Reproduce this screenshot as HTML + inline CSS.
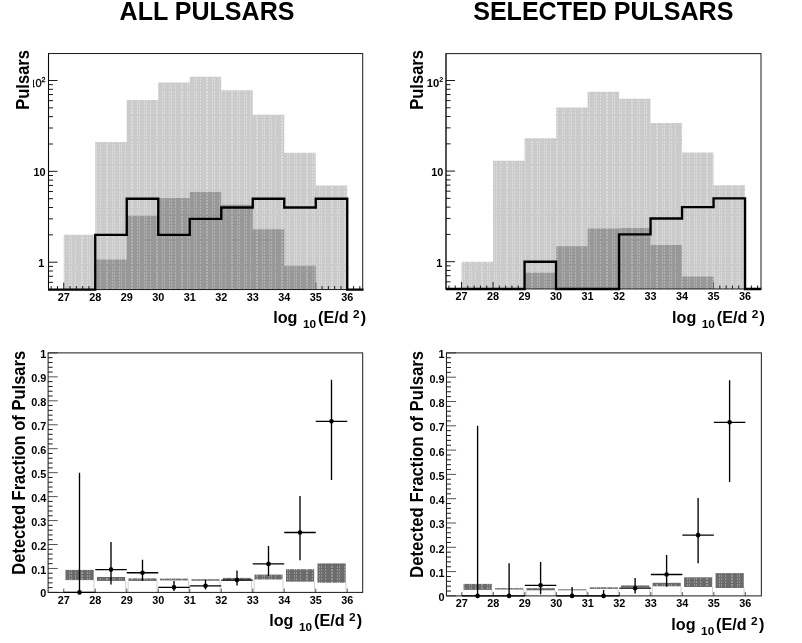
<!DOCTYPE html>
<html lang="en"><head><meta charset="utf-8"><title>Pulsars</title>
<style>html,body{margin:0;padding:0;background:#fff;}body{width:802px;height:643px;overflow:hidden;}svg{display:block;}text{font-family:"Liberation Sans",Arial,Helvetica,sans-serif;font-weight:bold;fill:#000;}</style>
</head><body>
<svg width="802" height="643" viewBox="0 0 802 643">
<defs>
<pattern id="pl" patternUnits="userSpaceOnUse" width="25" height="25"><rect width="25" height="25" fill="#cbcbcb"/><path d="M0 0h1v2h-1zM0 3h1v2h-1zM0 6h1v2h-1zM0 9h1v2h-1zM0 12h1v2h-1zM0 16h1v2h-1zM0 19h1v2h-1zM0 22h1v2h-1zM6 0h2v2h-2zM6 3h2v2h-2zM6 6h2v2h-2zM6 9h2v2h-2zM6 12h2v2h-2zM6 16h2v2h-2zM6 19h2v2h-2zM6 22h2v2h-2zM12 0h1v2h-1zM12 3h1v2h-1zM12 6h1v2h-1zM12 9h1v2h-1zM12 12h1v2h-1zM12 16h1v2h-1zM12 19h1v2h-1zM12 22h1v2h-1zM14 0h1v2h-1zM14 3h1v2h-1zM14 6h1v2h-1zM14 9h1v2h-1zM14 12h1v2h-1zM14 16h1v2h-1zM14 19h1v2h-1zM14 22h1v2h-1zM19 0h1v2h-1zM19 3h1v2h-1zM19 6h1v2h-1zM19 9h1v2h-1zM19 12h1v2h-1zM19 16h1v2h-1zM19 19h1v2h-1zM19 22h1v2h-1zM21 0h1v2h-1zM21 3h1v2h-1zM21 6h1v2h-1zM21 9h1v2h-1zM21 12h1v2h-1zM21 16h1v2h-1zM21 19h1v2h-1zM21 22h1v2h-1z" fill="#dcdcdc"/></pattern>
<pattern id="pd" patternUnits="userSpaceOnUse" width="25" height="25"><rect width="25" height="25" fill="#989898"/><path d="M0 0h1v2h-1zM0 3h1v2h-1zM0 6h1v2h-1zM0 9h1v2h-1zM0 12h1v2h-1zM0 16h1v2h-1zM0 19h1v2h-1zM0 22h1v2h-1zM6 0h2v2h-2zM6 3h2v2h-2zM6 6h2v2h-2zM6 9h2v2h-2zM6 12h2v2h-2zM6 16h2v2h-2zM6 19h2v2h-2zM6 22h2v2h-2zM12 0h1v2h-1zM12 3h1v2h-1zM12 6h1v2h-1zM12 9h1v2h-1zM12 12h1v2h-1zM12 16h1v2h-1zM12 19h1v2h-1zM12 22h1v2h-1zM14 0h1v2h-1zM14 3h1v2h-1zM14 6h1v2h-1zM14 9h1v2h-1zM14 12h1v2h-1zM14 16h1v2h-1zM14 19h1v2h-1zM14 22h1v2h-1zM19 0h1v2h-1zM19 3h1v2h-1zM19 6h1v2h-1zM19 9h1v2h-1zM19 12h1v2h-1zM19 16h1v2h-1zM19 19h1v2h-1zM19 22h1v2h-1zM21 0h1v2h-1zM21 3h1v2h-1zM21 6h1v2h-1zM21 9h1v2h-1zM21 12h1v2h-1zM21 16h1v2h-1zM21 19h1v2h-1zM21 22h1v2h-1z" fill="#b2b2b2"/></pattern>
<pattern id="pb" patternUnits="userSpaceOnUse" width="25" height="25"><rect width="25" height="25" fill="#6b6b6b"/><path d="M0 0h1v2h-1zM0 3h1v2h-1zM0 6h1v2h-1zM0 9h1v2h-1zM0 12h1v2h-1zM0 16h1v2h-1zM0 19h1v2h-1zM0 22h1v2h-1zM6 0h2v2h-2zM6 3h2v2h-2zM6 6h2v2h-2zM6 9h2v2h-2zM6 12h2v2h-2zM6 16h2v2h-2zM6 19h2v2h-2zM6 22h2v2h-2zM12 0h1v2h-1zM12 3h1v2h-1zM12 6h1v2h-1zM12 9h1v2h-1zM12 12h1v2h-1zM12 16h1v2h-1zM12 19h1v2h-1zM12 22h1v2h-1zM14 0h1v2h-1zM14 3h1v2h-1zM14 6h1v2h-1zM14 9h1v2h-1zM14 12h1v2h-1zM14 16h1v2h-1zM14 19h1v2h-1zM14 22h1v2h-1zM19 0h1v2h-1zM19 3h1v2h-1zM19 6h1v2h-1zM19 9h1v2h-1zM19 12h1v2h-1zM19 16h1v2h-1zM19 19h1v2h-1zM19 22h1v2h-1zM21 0h1v2h-1zM21 3h1v2h-1zM21 6h1v2h-1zM21 9h1v2h-1zM21 12h1v2h-1zM21 16h1v2h-1zM21 19h1v2h-1zM21 22h1v2h-1z" fill="#969696"/></pattern>
</defs>
<rect width="802" height="643" fill="#ffffff"/>
<text x="207" y="19.6" font-size="25.05" text-anchor="middle">ALL PULSARS</text>
<path d="M63.75 289.55V234.85H95.25V142.08H126.75V100H158.25V82.52H189.75V76.74H221.25V90.3H252.75V114.73H284.25V152.81H315.75V185.42H347.25V289.55Z" fill="url(#pl)"/>
<path d="M51.15 289.55v-3.5M57.45 289.55v-3.5M63.75 289.55v-7M70.05 289.55v-3.5M76.35 289.55v-3.5M82.65 289.55v-3.5M88.95 289.55v-3.5M95.25 289.55v-7M101.55 289.55v-3.5M107.85 289.55v-3.5M114.15 289.55v-3.5M120.45 289.55v-3.5M126.75 289.55v-7M133.05 289.55v-3.5M139.35 289.55v-3.5M145.65 289.55v-3.5M151.95 289.55v-3.5M158.25 289.55v-7M164.55 289.55v-3.5M170.85 289.55v-3.5M177.15 289.55v-3.5M183.45 289.55v-3.5M189.75 289.55v-7M196.05 289.55v-3.5M202.35 289.55v-3.5M208.65 289.55v-3.5M214.95 289.55v-3.5M221.25 289.55v-7M227.55 289.55v-3.5M233.85 289.55v-3.5M240.15 289.55v-3.5M246.45 289.55v-3.5M252.75 289.55v-7M259.05 289.55v-3.5M265.35 289.55v-3.5M271.65 289.55v-3.5M277.95 289.55v-3.5M284.25 289.55v-7M290.55 289.55v-3.5M296.85 289.55v-3.5M303.15 289.55v-3.5M309.45 289.55v-3.5M315.75 289.55v-7M322.05 289.55v-3.5M328.35 289.55v-3.5M334.65 289.55v-3.5M340.95 289.55v-3.5M347.25 289.55v-7M353.55 289.55v-3.5M359.85 289.55v-3.5M48.5 289.55h4.5M48.5 282.35h4.5M48.5 276.27h4.5M48.5 271h4.5M48.5 266.36h4.5M48.5 262.2h9M48.5 234.85h4.5M48.5 218.85h4.5M48.5 207.5h4.5M48.5 198.7h4.5M48.5 191.5h4.5M48.5 185.42h4.5M48.5 180.15h4.5M48.5 175.51h4.5M48.5 171.35h9M48.5 144h4.5M48.5 128h4.5M48.5 116.65h4.5M48.5 107.85h4.5M48.5 100.65h4.5M48.5 94.57h4.5M48.5 89.3h4.5M48.5 84.66h4.5M48.5 80.5h9" stroke="#1a1a1a" stroke-width="1" fill="none"/>
<path d="M63.75 289.55V289.55H95.25V259.53H126.75V215.82H158.25V197.99H189.75V191.9H221.25V204.65H252.75V229.34H284.25V265.7H315.75V289.55H347.25V289.55Z" fill="url(#pd)"/>
<rect x="48.5" y="53.55" width="314.2" height="236" fill="none" stroke="#1a1a1a" stroke-width="1"/>
<path d="M48.5 53.55V289.55" stroke="#000" stroke-width="1.1" opacity="0.75"/>
<path d="M48 289.55H63.75V289.55H95.25V234.85H126.75V198.7H158.25V234.85H189.75V218.85H221.25V207.5H252.75V198.7H284.25V207.5H315.75V198.7H347.25V289.55H363.5" stroke="#000" stroke-width="2.35" fill="none" stroke-linejoin="miter"/>
<text x="63.75" y="300.5" font-size="10.85" text-anchor="middle">27</text>
<text x="95.25" y="300.5" font-size="10.85" text-anchor="middle">28</text>
<text x="126.75" y="300.5" font-size="10.85" text-anchor="middle">29</text>
<text x="158.25" y="300.5" font-size="10.85" text-anchor="middle">30</text>
<text x="189.75" y="300.5" font-size="10.85" text-anchor="middle">31</text>
<text x="221.25" y="300.5" font-size="10.85" text-anchor="middle">32</text>
<text x="252.75" y="300.5" font-size="10.85" text-anchor="middle">33</text>
<text x="284.25" y="300.5" font-size="10.85" text-anchor="middle">34</text>
<text x="315.75" y="300.5" font-size="10.85" text-anchor="middle">35</text>
<text x="347.25" y="300.5" font-size="10.85" text-anchor="middle">36</text>
<text x="44.4" y="266.8" font-size="10.85" text-anchor="end">1</text>
<text x="45.5" y="175.95" font-size="10.85" text-anchor="end">10</text>
<text x="45.6" y="87.4" font-size="11" text-anchor="end" style="font-weight:normal" stroke="#000" stroke-width="0.3">10<tspan font-size="7.2" dy="-5.0">2</tspan></text>
<rect x="0" y="60" width="34.4" height="40" fill="#fff"/>
<path d="M33.5 79.7V87.4" stroke="#111" stroke-width="1"/>
<text transform="translate(29.4 109.7) rotate(-90)" font-size="18.1" textLength="59.6" lengthAdjust="spacingAndGlyphs">Pulsars</text>
<text x="273.2" y="322.8" font-size="16.2">log</text>
<text x="303" y="328" font-size="11.8">10</text>
<text x="318" y="322.8" font-size="16.2">(E/d</text>
<text x="353" y="317.9" font-size="11.8">2</text>
<text x="360.8" y="322.8" font-size="16.2">)</text>
<text x="603.3" y="19.6" font-size="25.05" text-anchor="middle">SELECTED PULSARS</text>
<path d="M461.55 288.97V261.7H493.05V160.78H524.55V138.33H556.05V107.38H587.55V91.82H619.05V98.68H650.55V122.95H682.05V152.61H713.55V185.13H745.05V288.97Z" fill="url(#pl)"/>
<path d="M448.95 288.97v-3.5M455.25 288.97v-3.5M461.55 288.97v-7M467.85 288.97v-3.5M474.15 288.97v-3.5M480.45 288.97v-3.5M486.75 288.97v-3.5M493.05 288.97v-7M499.35 288.97v-3.5M505.65 288.97v-3.5M511.95 288.97v-3.5M518.25 288.97v-3.5M524.55 288.97v-7M530.85 288.97v-3.5M537.15 288.97v-3.5M543.45 288.97v-3.5M549.75 288.97v-3.5M556.05 288.97v-7M562.35 288.97v-3.5M568.65 288.97v-3.5M574.95 288.97v-3.5M581.25 288.97v-3.5M587.55 288.97v-7M593.85 288.97v-3.5M600.15 288.97v-3.5M606.45 288.97v-3.5M612.75 288.97v-3.5M619.05 288.97v-7M625.35 288.97v-3.5M631.65 288.97v-3.5M637.95 288.97v-3.5M644.25 288.97v-3.5M650.55 288.97v-7M656.85 288.97v-3.5M663.15 288.97v-3.5M669.45 288.97v-3.5M675.75 288.97v-3.5M682.05 288.97v-7M688.35 288.97v-3.5M694.65 288.97v-3.5M700.95 288.97v-3.5M707.25 288.97v-3.5M713.55 288.97v-7M719.85 288.97v-3.5M726.15 288.97v-3.5M732.45 288.97v-3.5M738.75 288.97v-3.5M745.05 288.97v-7M751.35 288.97v-3.5M757.65 288.97v-3.5M446 288.97h4.5M446 281.8h4.5M446 275.73h4.5M446 270.48h4.5M446 265.85h4.5M446 261.7h9M446 234.43h4.5M446 218.47h4.5M446 207.15h4.5M446 198.37h4.5M446 191.2h4.5M446 185.13h4.5M446 179.88h4.5M446 175.25h4.5M446 171.1h9M446 143.83h4.5M446 127.87h4.5M446 116.55h4.5M446 107.77h4.5M446 100.6h4.5M446 94.53h4.5M446 89.28h4.5M446 84.65h4.5M446 80.5h9" stroke="#1a1a1a" stroke-width="1" fill="none"/>
<path d="M461.55 288.97V288.97H493.05V288.97H524.55V272.76H556.05V246.27H587.55V228.59H619.05V228.08H650.55V244.97H682.05V276.47H713.55V288.97H745.05V288.97Z" fill="url(#pd)"/>
<rect x="446" y="53.62" width="315" height="235.35" fill="none" stroke="#1a1a1a" stroke-width="1"/>
<path d="M446 53.62V288.97" stroke="#000" stroke-width="1.1" opacity="0.75"/>
<path d="M445.8 288.97H461.55V288.97H493.05V288.97H524.55V261.7H556.05V288.97H587.55V288.97H619.05V234.43H650.55V218.47H682.05V207.15H713.55V198.37H745.05V288.97H761.3" stroke="#000" stroke-width="2.35" fill="none" stroke-linejoin="miter"/>
<text x="461.55" y="300.1" font-size="10.85" text-anchor="middle">27</text>
<text x="493.05" y="300.1" font-size="10.85" text-anchor="middle">28</text>
<text x="524.55" y="300.1" font-size="10.85" text-anchor="middle">29</text>
<text x="556.05" y="300.1" font-size="10.85" text-anchor="middle">30</text>
<text x="587.55" y="300.1" font-size="10.85" text-anchor="middle">31</text>
<text x="619.05" y="300.1" font-size="10.85" text-anchor="middle">32</text>
<text x="650.55" y="300.1" font-size="10.85" text-anchor="middle">33</text>
<text x="682.05" y="300.1" font-size="10.85" text-anchor="middle">34</text>
<text x="713.55" y="300.1" font-size="10.85" text-anchor="middle">35</text>
<text x="745.05" y="300.1" font-size="10.85" text-anchor="middle">36</text>
<text x="442.2" y="267" font-size="10.85" text-anchor="end">1</text>
<text x="443.3" y="176.1" font-size="10.85" text-anchor="end">10</text>
<text x="443.3" y="86.8" font-size="11.2" text-anchor="end">10<tspan font-size="7.2" dy="-4.9">2</tspan></text>
<text transform="translate(423.1 109.7) rotate(-90)" font-size="18.1" textLength="59.6" lengthAdjust="spacingAndGlyphs">Pulsars</text>
<text x="672" y="323" font-size="16.2">log</text>
<text x="701.8" y="328.2" font-size="11.8">10</text>
<text x="716.8" y="323" font-size="16.2">(E/d</text>
<text x="751.8" y="318.1" font-size="11.8">2</text>
<text x="759.6" y="323" font-size="16.2">)</text>
<path d="M93.99 580.1V592.4M125.49 580.9V592.4M156.99 580.9V592.4M128.17 592.4V580.9M188.49 580.4V592.4M219.99 580.7V592.4M251.49 580.4V592.4M282.99 579.5V592.4M254.17 592.4V579.5M314.49 581.7V592.4M345.99 582.7V592.4" stroke="#bdbdbd" stroke-width="0.7" fill="none"/>
<rect x="65.48" y="569.9" width="28.19" height="10.2" fill="url(#pb)"/>
<rect x="96.98" y="577" width="28.19" height="3.9" fill="url(#pb)"/>
<rect x="128.48" y="578.4" width="28.19" height="2.5" fill="url(#pb)"/>
<rect x="159.98" y="578.6" width="28.19" height="1.8" fill="url(#pb)"/>
<rect x="191.48" y="579.2" width="28.19" height="1.5" fill="url(#pb)"/>
<rect x="222.98" y="577.9" width="28.19" height="2.5" fill="url(#pb)"/>
<rect x="254.48" y="574.6" width="28.19" height="4.9" fill="url(#pb)"/>
<rect x="285.98" y="569.2" width="28.19" height="12.5" fill="url(#pb)"/>
<rect x="317.48" y="563.4" width="28.19" height="19.3" fill="url(#pb)"/>
<path d="M48.1 587.61h4.5M48.1 582.82h4.5M48.1 578.03h4.5M48.1 573.24h4.5M48.1 563.66h4.5M48.1 558.87h4.5M48.1 554.08h4.5M48.1 549.29h4.5M48.1 539.71h4.5M48.1 534.92h4.5M48.1 530.13h4.5M48.1 525.34h4.5M48.1 515.76h4.5M48.1 510.97h4.5M48.1 506.18h4.5M48.1 501.39h4.5M48.1 491.81h4.5M48.1 487.02h4.5M48.1 482.23h4.5M48.1 477.44h4.5M48.1 467.86h4.5M48.1 463.07h4.5M48.1 458.28h4.5M48.1 453.49h4.5M48.1 443.91h4.5M48.1 439.12h4.5M48.1 434.33h4.5M48.1 429.54h4.5M48.1 419.96h4.5M48.1 415.17h4.5M48.1 410.38h4.5M48.1 405.59h4.5M48.1 396.01h4.5M48.1 391.22h4.5M48.1 386.43h4.5M48.1 381.64h4.5M48.1 372.06h4.5M48.1 367.27h4.5M48.1 362.48h4.5M48.1 357.69h4.5" stroke="#1a1a1a" stroke-width="1" fill="none"/>
<path d="M63.75 592.4v-3.8M95.25 592.4v-3.8M126.75 592.4v-3.8M158.25 592.4v-3.8M189.75 592.4v-3.8M221.25 592.4v-3.8M252.75 592.4v-3.8M284.25 592.4v-3.8M315.75 592.4v-3.8M347.25 592.4v-3.8M48.1 592.4h9.6M48.1 568.45h9.6M48.1 544.5h9.6M48.1 520.55h9.6M48.1 496.6h9.6M48.1 472.65h9.6M48.1 448.7h9.6M48.1 424.75h9.6M48.1 400.8h9.6M48.1 376.85h9.6M48.1 352.9h9.6" stroke="#555" stroke-width="1" fill="none"/>
<rect x="48.1" y="352.9" width="314.6" height="239.5" fill="none" stroke="#1a1a1a" stroke-width="1"/>
<path d="M63.75 592.4H95.25M79.5 472.65V592.4M95.25 569.59H126.75M111 541.9V584.6M126.75 572.77H158.25M142.5 559.7V581.1M158.25 587.36H189.75M174 581.1V590.9M189.75 585.87H221.25M205.5 579.7V589.4M221.25 580.12H252.75M237 570.4V585.6M252.75 563.89H284.25M268.5 545.9V576.1M284.25 532.52H315.75M300 495.9V560.3M315.75 421.33H347.25M331.5 379.8V480" stroke="#000" stroke-width="1.35" fill="none"/>
<circle cx="79.5" cy="592.4" r="2.3" fill="#000"/>
<circle cx="111" cy="569.59" r="2.3" fill="#000"/>
<circle cx="142.5" cy="572.77" r="2.3" fill="#000"/>
<circle cx="174" cy="587.36" r="2.3" fill="#000"/>
<circle cx="205.5" cy="585.87" r="2.3" fill="#000"/>
<circle cx="237" cy="580.12" r="2.3" fill="#000"/>
<circle cx="268.5" cy="563.89" r="2.3" fill="#000"/>
<circle cx="300" cy="532.52" r="2.3" fill="#000"/>
<circle cx="331.5" cy="421.33" r="2.3" fill="#000"/>
<text x="63.75" y="603.5" font-size="10.85" text-anchor="middle">27</text>
<text x="95.25" y="603.5" font-size="10.85" text-anchor="middle">28</text>
<text x="126.75" y="603.5" font-size="10.85" text-anchor="middle">29</text>
<text x="158.25" y="603.5" font-size="10.85" text-anchor="middle">30</text>
<text x="189.75" y="603.5" font-size="10.85" text-anchor="middle">31</text>
<text x="221.25" y="603.5" font-size="10.85" text-anchor="middle">32</text>
<text x="252.75" y="603.5" font-size="10.85" text-anchor="middle">33</text>
<text x="284.25" y="603.5" font-size="10.85" text-anchor="middle">34</text>
<text x="315.75" y="603.5" font-size="10.85" text-anchor="middle">35</text>
<text x="347.25" y="603.5" font-size="10.85" text-anchor="middle">36</text>
<text x="46.4" y="597" font-size="10.85" text-anchor="end">0</text>
<text x="46.4" y="573.85" font-size="10.85" text-anchor="end">0.1</text>
<text x="46.4" y="549.9" font-size="10.85" text-anchor="end">0.2</text>
<text x="46.4" y="525.95" font-size="10.85" text-anchor="end">0.3</text>
<text x="46.4" y="502" font-size="10.85" text-anchor="end">0.4</text>
<text x="46.4" y="478.05" font-size="10.85" text-anchor="end">0.5</text>
<text x="46.4" y="454.1" font-size="10.85" text-anchor="end">0.6</text>
<text x="46.4" y="430.15" font-size="10.85" text-anchor="end">0.7</text>
<text x="46.4" y="406.2" font-size="10.85" text-anchor="end">0.8</text>
<text x="46.4" y="382.25" font-size="10.85" text-anchor="end">0.9</text>
<text x="46.4" y="358.3" font-size="10.85" text-anchor="end">1</text>
<text transform="translate(25.1 574.7) rotate(-90)" font-size="18.1" textLength="223.8" lengthAdjust="spacingAndGlyphs">Detected Fraction of Pulsars</text>
<text x="269.2" y="626.1" font-size="16.2">log</text>
<text x="299" y="631.3" font-size="11.8">10</text>
<text x="314" y="626.1" font-size="16.2">(E/d</text>
<text x="349" y="621.2" font-size="11.8">2</text>
<text x="356.8" y="626.1" font-size="16.2">)</text>
<path d="M492.09 589.9V595.9M523.59 589.5V595.9M555.09 590.3V595.9M526.27 595.9V590.3M586.59 590.3V595.9M618.09 588.9V595.9M649.59 587.3V595.9M681.09 586.3V595.9M652.27 595.9V586.3M712.59 587V595.9M744.09 588V595.9" stroke="#bdbdbd" stroke-width="0.7" fill="none"/>
<rect x="463.58" y="583.9" width="28.19" height="6" fill="url(#pb)"/>
<rect x="495.08" y="588.1" width="28.19" height="1.4" fill="url(#pb)"/>
<rect x="526.58" y="588.1" width="28.19" height="2.2" fill="url(#pb)"/>
<rect x="558.08" y="589.3" width="28.19" height="1" fill="url(#pb)"/>
<rect x="589.58" y="587.3" width="28.19" height="1.6" fill="url(#pb)"/>
<rect x="621.08" y="585.4" width="28.19" height="1.9" fill="url(#pb)"/>
<rect x="652.58" y="582.8" width="28.19" height="3.5" fill="url(#pb)"/>
<rect x="684.08" y="577.3" width="28.19" height="9.7" fill="url(#pb)"/>
<rect x="715.58" y="573.1" width="28.19" height="14.9" fill="url(#pb)"/>
<path d="M446.45 591.04h4.5M446.45 586.18h4.5M446.45 581.32h4.5M446.45 576.46h4.5M446.45 566.74h4.5M446.45 561.88h4.5M446.45 557.02h4.5M446.45 552.16h4.5M446.45 542.44h4.5M446.45 537.58h4.5M446.45 532.72h4.5M446.45 527.86h4.5M446.45 518.14h4.5M446.45 513.28h4.5M446.45 508.42h4.5M446.45 503.56h4.5M446.45 493.84h4.5M446.45 488.98h4.5M446.45 484.12h4.5M446.45 479.26h4.5M446.45 469.54h4.5M446.45 464.68h4.5M446.45 459.82h4.5M446.45 454.96h4.5M446.45 445.24h4.5M446.45 440.38h4.5M446.45 435.52h4.5M446.45 430.66h4.5M446.45 420.94h4.5M446.45 416.08h4.5M446.45 411.22h4.5M446.45 406.36h4.5M446.45 396.64h4.5M446.45 391.78h4.5M446.45 386.92h4.5M446.45 382.06h4.5M446.45 372.34h4.5M446.45 367.48h4.5M446.45 362.62h4.5M446.45 357.76h4.5" stroke="#1a1a1a" stroke-width="1" fill="none"/>
<path d="M461.85 595.9v-3.8M493.35 595.9v-3.8M524.85 595.9v-3.8M556.35 595.9v-3.8M587.85 595.9v-3.8M619.35 595.9v-3.8M650.85 595.9v-3.8M682.35 595.9v-3.8M713.85 595.9v-3.8M745.35 595.9v-3.8M446.45 595.9h9.6M446.45 571.6h9.6M446.45 547.3h9.6M446.45 523h9.6M446.45 498.7h9.6M446.45 474.4h9.6M446.45 450.1h9.6M446.45 425.8h9.6M446.45 401.5h9.6M446.45 377.2h9.6M446.45 352.9h9.6" stroke="#555" stroke-width="1" fill="none"/>
<rect x="446.45" y="352.9" width="314.9" height="243" fill="none" stroke="#1a1a1a" stroke-width="1"/>
<path d="M461.85 595.9H493.35M477.6 425.8V595.9M493.35 595.9H524.85M509.1 563.34V595.9M524.85 585.33H556.35M540.6 561.88V594.3M556.35 595.9H587.85M572.1 586.91V595.9M587.85 595.9H619.35M603.6 589.9V595.9M619.35 588.19H650.85M635.1 577.99V593.4M650.85 574.46H682.35M666.6 555.08V586.81M682.35 535.15H713.85M698.1 497.97V563.34M713.85 422.33H745.35M729.6 380.19V481.93" stroke="#000" stroke-width="1.35" fill="none"/>
<circle cx="477.6" cy="595.9" r="2.3" fill="#000"/>
<circle cx="509.1" cy="595.9" r="2.3" fill="#000"/>
<circle cx="540.6" cy="585.33" r="2.3" fill="#000"/>
<circle cx="572.1" cy="595.9" r="2.3" fill="#000"/>
<circle cx="603.6" cy="595.9" r="2.3" fill="#000"/>
<circle cx="635.1" cy="588.19" r="2.3" fill="#000"/>
<circle cx="666.6" cy="574.46" r="2.3" fill="#000"/>
<circle cx="698.1" cy="535.15" r="2.3" fill="#000"/>
<circle cx="729.6" cy="422.33" r="2.3" fill="#000"/>
<text x="461.85" y="606.5" font-size="10.85" text-anchor="middle">27</text>
<text x="493.35" y="606.5" font-size="10.85" text-anchor="middle">28</text>
<text x="524.85" y="606.5" font-size="10.85" text-anchor="middle">29</text>
<text x="556.35" y="606.5" font-size="10.85" text-anchor="middle">30</text>
<text x="587.85" y="606.5" font-size="10.85" text-anchor="middle">31</text>
<text x="619.35" y="606.5" font-size="10.85" text-anchor="middle">32</text>
<text x="650.85" y="606.5" font-size="10.85" text-anchor="middle">33</text>
<text x="682.35" y="606.5" font-size="10.85" text-anchor="middle">34</text>
<text x="713.85" y="606.5" font-size="10.85" text-anchor="middle">35</text>
<text x="745.35" y="606.5" font-size="10.85" text-anchor="middle">36</text>
<text x="444.5" y="600.5" font-size="10.85" text-anchor="end">0</text>
<text x="444.5" y="577" font-size="10.85" text-anchor="end">0.1</text>
<text x="444.5" y="552.7" font-size="10.85" text-anchor="end">0.2</text>
<text x="444.5" y="528.4" font-size="10.85" text-anchor="end">0.3</text>
<text x="444.5" y="504.1" font-size="10.85" text-anchor="end">0.4</text>
<text x="444.5" y="479.8" font-size="10.85" text-anchor="end">0.5</text>
<text x="444.5" y="455.5" font-size="10.85" text-anchor="end">0.6</text>
<text x="444.5" y="431.2" font-size="10.85" text-anchor="end">0.7</text>
<text x="444.5" y="406.9" font-size="10.85" text-anchor="end">0.8</text>
<text x="444.5" y="382.6" font-size="10.85" text-anchor="end">0.9</text>
<text x="444.5" y="358.3" font-size="10.85" text-anchor="end">1</text>
<text transform="translate(423.2 577.94) rotate(-90)" font-size="18.36" textLength="227.07" lengthAdjust="spacingAndGlyphs">Detected Fraction of Pulsars</text>
<text x="671.3" y="629.6" font-size="16.2">log</text>
<text x="701.1" y="634.8" font-size="11.8">10</text>
<text x="716.1" y="629.6" font-size="16.2">(E/d</text>
<text x="751.1" y="624.7" font-size="11.8">2</text>
<text x="758.9" y="629.6" font-size="16.2">)</text>
</svg>
</body></html>
